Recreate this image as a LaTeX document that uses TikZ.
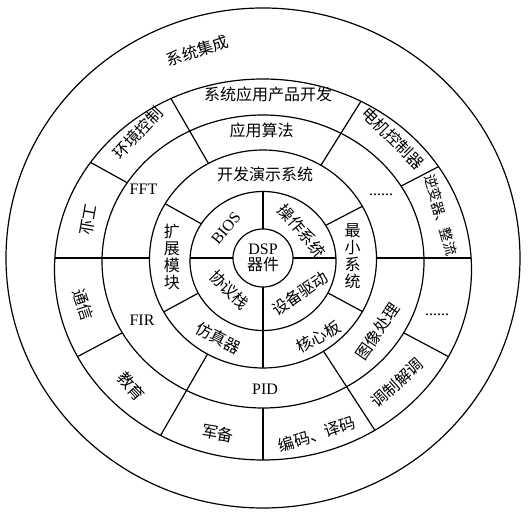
\documentclass[tikz,border=0pt]{standalone}
\usepackage{fontspec}
\setmainfont{Liberation Serif}
\newfontfamily\cjk{Noto Sans CJK SC}

% ring number, x radius, y radius, shift of centre
\newcommand\defring[4]{%
  \expandafter\def\csname ringa#1\endcsname{#2}%
  \expandafter\def\csname ringb#1\endcsname{#3}%
  \expandafter\def\csname ringc#1\endcsname{#4}}
\defring{1}{3.0}{2.9}{0}
\defring{2}{7.3}{6.95}{-0.3}
\defring{3}{11.35}{10.9}{-0.1}
\defring{4}{16.1}{14.65}{-0.35}
\defring{5}{20.85}{19.05}{-1.15}
\defring{6}{25.7}{25.0}{0}

% point on a ring, seen from the centre under an angle
\newcommand\ringpt[3]{%
  \edef\rga{\csname ringa#3\endcsname}%
  \edef\rgb{\csname ringb#3\endcsname}%
  \edef\rgc{\csname ringc#3\endcsname}%
  \pgfmathsetmacro\rgA{cos(#2)^2*(\rgb/\rga)^2+sin(#2)^2}%
  \pgfmathsetmacro\rgB{-2*(\rgc)*sin(#2)}%
  \pgfmathsetmacro\rgC{(\rgc)*(\rgc)-\rgb*\rgb}%
  \pgfmathsetmacro\rgR{(-\rgB+sqrt(\rgB*\rgB-4*\rgA*\rgC))/(2*\rgA)}%
  \coordinate (#1) at (#2:\rgR);}

\begin{document}
\begin{tikzpicture}[x=10pt, y=10pt,
    rim/.style={line width=1.2pt},
    cn/.style={font=\cjk\fontsize{16}{17}\selectfont, inner sep=0pt},
    lt/.style={font=\fontsize{16}{16.5}\selectfont, inner sep=0pt}
]
\useasboundingbox (-26.3,-26.0) rectangle (26.6,25.8);

% rings
\foreach \k in {1,...,6}
  \draw[rim] (0,\csname ringc\k\endcsname) ellipse [x radius=\csname ringa\k\endcsname, y radius=\csname ringb\k\endcsname];

% spokes: angle/inner ring/outer ring
\foreach \ang/\ri/\ro in {0/1/2, 90/1/2, 180/1/2, 270/1/3,
    27.5/2/3, 151/2/3, 208.5/2/3, 331.7/2/3,
    0/3/5, 58/3/5, 120/3/5, 180/3/5, 240/3/5, 303/3/5,
    27.5/4/5, 151/4/5, 208/4/5, 332/4/5, 270/4/5}
{
  \ringpt{a}{\ang}{\ri}
  \ringpt{b}{\ang}{\ro}
  \draw[rim] (a) -- (b);
}

% centre
\node[lt, align=center] (dsp) at (0,0) {DSP\\{\cjk 器件}};

% first ring
\node[lt, rotate=50] (bios) at (-3.7,3.0) {BIOS};
\node[cn, rotate=-50] (os) at (3.9,2.7) {操作系统};
\node[cn, rotate=-45] (stack) at (-3.35,-3.2) {协议栈};
\node[cn, rotate=35] (driver) at (3.7,-3.55) {设备驱动};

% second ring
\node[cn] (demo) at (0.2,8.4) {开发演示系统};
\node[cn, align=center] (ext) at (-9.1,0.1) {扩\\展\\模\\块};
\node[cn, align=center] (minsys) at (8.95,0.2) {最\\小\\系\\统};
\node[cn, rotate=-27] (emu) at (-4.45,-8.0) {仿真器};
\node[cn, rotate=29] (core) at (5.55,-7.9) {核心板};

% third ring
\node[cn] (algo) at (-0.15,12.8) {应用算法};
\node[lt] (fft) at (-11.95,6.85) {FFT};
\node[lt] (fir) at (-12.1,-6.2) {FIR};
\node[lt] (pid) at (0.2,-13.1) {PID};
\node[lt, anchor=base] (dotsA) at (11.8,6.25) {......};
\node[cn, rotate=55] (img) at (11.45,-7.35) {图像处理};

% fourth ring
\node[cn] (prod) at (0.5,16.35) {系统应用产品开发};
\node[cn, rotate=47] (env) at (-12.5,12.5) {环境控制};
\node[cn, rotate=-100] (ind) at (-17.4,3.8) {工业};
\node[cn, rotate=-72] (comm) at (-18.0,-4.7) {通信};
\node[cn, rotate=-48] (edu) at (-13.15,-12.8) {教育};
\node[cn, rotate=-10] (mil) at (-4.5,-17.5) {军备};
\node[cn, rotate=18] (codec) at (5.4,-17.6) {编码、译码};
\node[cn, rotate=42] (modem) at (13.4,-12.5) {调制解调};
\node[lt, anchor=base] (dotsB) at (17.4,-5.75) {......};
\node[cn, rotate=-74, font=\cjk\fontsize{14}{15}\selectfont] (inv) at (17.8,4.3) {逆变器、整流};
\node[cn, rotate=-45] (motor) at (13.0,12.0) {电机控制器};

% outer ring
\node[cn, rotate=18] (integ) at (-6.55,20.75) {系统集成};
\end{tikzpicture}
\end{document}
